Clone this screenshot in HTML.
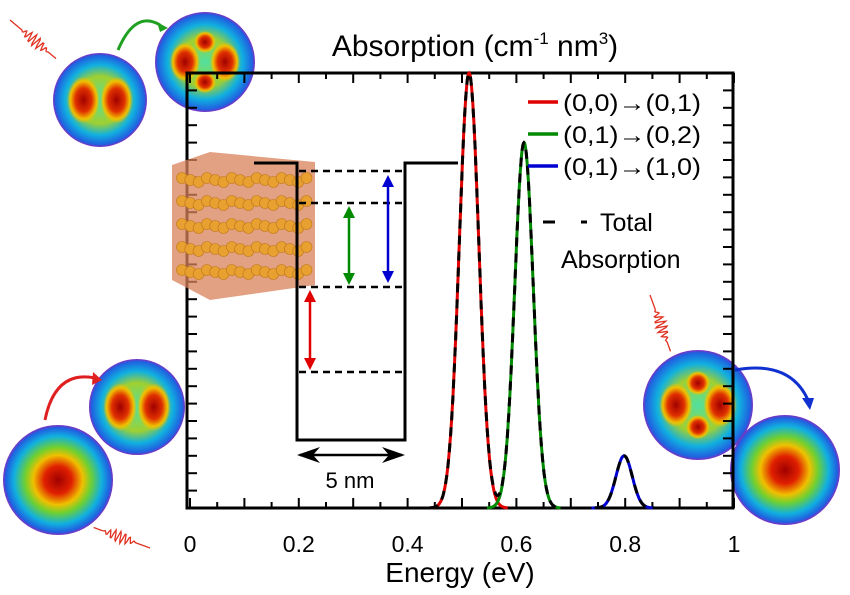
<!DOCTYPE html>
<html><head><meta charset="utf-8"><style>
body{margin:0;background:#fff;width:850px;height:590px;overflow:hidden;font-family:"Liberation Sans",sans-serif}
svg text{font-family:"Liberation Sans","DejaVu Sans",sans-serif}
</style></head><body>
<svg id="chart" width="850" height="590" viewBox="0 0 850 590" xmlns="http://www.w3.org/2000/svg">
<defs>
<radialGradient id="g1" cx="50%" cy="50%" r="50%"><stop offset="0" stop-color="#a00000"/><stop offset="0.25" stop-color="#e02000"/><stop offset="0.45" stop-color="#f0c000"/><stop offset="0.6" stop-color="#70d030"/><stop offset="0.8" stop-color="#10b0e0"/><stop offset="0.95" stop-color="#2060e0"/><stop offset="1" stop-color="#8030c0"/></radialGradient>
<radialGradient id="g2" cx="50%" cy="50%" r="50%"><stop offset="0" stop-color="#50e0a0"/><stop offset="0.5" stop-color="#a0d030"/><stop offset="0.75" stop-color="#10b0e0"/><stop offset="0.95" stop-color="#2060e0"/><stop offset="1" stop-color="#8030c0"/></radialGradient>
<radialGradient id="lobe" cx="50%" cy="50%" r="50%"><stop offset="0" stop-color="#a00000"/><stop offset="0.5" stop-color="#e03000"/><stop offset="0.8" stop-color="#f0c000"/><stop offset="1" stop-color="#f0c000" stop-opacity="0"/></radialGradient>
</defs>
<g id="plot"></g>
</svg>
<script>
const categories = ['(0,0)→(0,1)','(0,1)→(0,2)','(0,1)→(1,0)'];
const peakCenters = [0.513, 0.614, 0.798];
const peakHeights = [1.0, 0.84, 0.12];
const peakWidths = [0.018, 0.017, 0.015];
const seriesColors = ['#e00000','#008a00','#0000d0'];
const xTicks = [0,0.2,0.4,0.6,0.8,1];
const xTickLabels = ['0','0.2','0.4','0.6','0.8','1'];
const levelY = [171,203,287,372];

const NS='http://www.w3.org/2000/svg';
const L=187,R=733,T=73,B=508;
const X0=190,X1=734;
const xs=v=>X0+(X1-X0)*v;
const ys=v=>B-(B-T)*v;
const g=document.getElementById('plot');
function el(tag,attrs,parent){const e=document.createElementNS(NS,tag);for(const k in attrs)e.setAttribute(k,attrs[k]);(parent||g).appendChild(e);return e;}

function orb(cx,cy,r,type,name){
  const grp=el('g',{});
  
  
  if(type===0){el('circle',{cx,cy,r,fill:'url(#g1)'},grp);}
  else if(type===1){el('circle',{cx,cy,r,fill:'url(#g2)'},grp);
    el('ellipse',{cx:cx-r*0.35,cy,rx:r*0.35,ry:r*0.5,fill:'url(#lobe)'},grp);
    el('ellipse',{cx:cx+r*0.35,cy,rx:r*0.35,ry:r*0.5,fill:'url(#lobe)'},grp);}
  else {el('circle',{cx,cy,r,fill:'url(#g2)'},grp);
    el('ellipse',{cx:cx-r*0.4,cy,rx:r*0.3,ry:r*0.4,fill:'url(#lobe)'},grp);
    el('ellipse',{cx:cx+r*0.4,cy,rx:r*0.3,ry:r*0.4,fill:'url(#lobe)'},grp);
    el('circle',{cx,cy:cy-r*0.4,r:r*0.22,fill:'url(#lobe)'},grp);
    el('circle',{cx,cy:cy+r*0.4,r:r*0.22,fill:'url(#lobe)'},grp);}
}
function wave(x,y,ang,name){
  let d='M0,0';for(let i=0;i<=60;i++){const a=(i>15&&i<50)?6*Math.sin((i-15)/35*Math.PI):0;d+=` L${i},${a*Math.sin(i*1.2)}`;}
  const p=el('path',{d,fill:'none',stroke:'#e03020','stroke-width':1.3,transform:`translate(${x},${y}) rotate(${ang})`});
  
  
}
wave(10,20,40,'photon-wave-top');wave(150,548,200,'photon-wave-bottom');wave(650,295,70,'photon-wave-right');
orb(100,100,47,1,'orbital-00');orb(205,62,50,2,'orbital-01-top');
orb(58,480,55,0,'orbital-ground-bottom');orb(137,407,48,1,'orbital-01-bottom');
orb(698,405,55,2,'orbital-01-right');orb(785,470,55,0,'orbital-10-right');
function carrow(d,col,name){const p=el('path',{d,fill:'none',stroke:col,'stroke-width':3});
  
  }
carrow('M118,50 Q135,10 160,25','#20a020','transition-arrow-green');
carrow('M45,420 Q55,370 95,378','#e02020','transition-arrow-red');
carrow('M735,370 Q790,360 808,400','#1030d0','transition-arrow-blue');
el('polygon',{points:'157,22 168,28 160,32',fill:'#20a020'});
el('polygon',{points:'93,372 102,380 92,385',fill:'#e02020'});
el('polygon',{points:'802,398 814,398 810,410',fill:'#1030d0'});

const fr=el('rect',{x:L,y:T,width:R-L,height:B-T,fill:'none',stroke:'#000','stroke-width':3});


for(let v=0;v<=1.001;v+=0.05){const x=xs(v);const len=(Math.round(v*20)%2===0)?10:6;
  el('line',{x1:x,y1:B,x2:x,y2:B-len,stroke:'#000','stroke-width':2});
  el('line',{x1:x,y1:T,x2:x,y2:T+len,stroke:'#000','stroke-width':2});}
for(let y=B-17.4;y>T+5;y-=17.4){el('line',{x1:L,y1:y,x2:L+10,y2:y,stroke:'#000','stroke-width':2});el('line',{x1:R,y1:y,x2:R-10,y2:y,stroke:'#000','stroke-width':2});}
xTicks.forEach((v,i)=>{const t=el('text',{x:xs(v),y:552,'font-size':23,'text-anchor':'middle'});t.textContent=xTickLabels[i];
  
  });
const xl=el('text',{x:460,y:582,'font-size':28,'text-anchor':'middle'});xl.textContent='Energy (eV)';


const tt=el('text',{x:475,y:56,'font-size':30,'text-anchor':'middle'});
tt.innerHTML='Absorption (cm<tspan dy="-12" font-size="17">-1</tspan><tspan dy="12"> nm</tspan><tspan dy="-12" font-size="17">3</tspan><tspan dy="12">)</tspan>';



const nb=el('g',{});


el('polygon',{points:'172,165 210,152 315,162 315,285 210,300 172,280',fill:'#d9825a','fill-opacity':0.75},nb);
for(let r=0;r<5;r++)for(let c=0;c<16;c++)el('circle',{cx:182+c*8.3,cy:180+r*23+((c%3)-1)*2,r:5.5,fill:'#e8a030',stroke:'#c07818','stroke-width':0.6},nb);

const well=el('path',{d:'M254,163 H297 V440 H405 V163 H458',fill:'none',stroke:'#000','stroke-width':3});


levelY.forEach(y=>{const l=el('line',{x1:299,y1:y,x2:405,y2:y,stroke:'#000','stroke-width':2.5,'stroke-dasharray':'7,5'});
  
  });
function darrow(x,y1,y2,col,name){const a=el('g',{});
  
  
  el('line',{x1:x,y1:y1+8,x2:x,y2:y2-8,stroke:col,'stroke-width':2.5},a);
  el('polygon',{points:`${x-6},${y1+12} ${x},${y1} ${x+6},${y1+12}`,fill:col},a);
  el('polygon',{points:`${x-6},${y2-12} ${x},${y2} ${x+6},${y2-12}`,fill:col},a);}
darrow(388,175,283,'#0000d0','arrow-blue');darrow(349,206,285,'#008a00','arrow-green');darrow(310,290,370,'#e00000','arrow-red');
const wa=el('g',{});


el('line',{x1:300,y1:455,x2:402,y2:455,stroke:'#000','stroke-width':2.5},wa);
el('polygon',{points:'297,455 320,447 313,455 320,463',fill:'#000'},wa);
el('polygon',{points:'405,455 382,447 389,455 382,463',fill:'#000'},wa);
const wl=el('text',{x:350,y:488,'font-size':22,'text-anchor':'middle'});wl.textContent='5 nm';



function gauss(v,i){return peakHeights[i]*Math.exp(-0.5*Math.pow((v-peakCenters[i])/peakWidths[i],2));}
categories.forEach((c,i)=>{let d='';for(let v=peakCenters[i]-4*peakWidths[i];v<=peakCenters[i]+4*peakWidths[i];v+=0.001){d+=(d?'L':'M')+xs(v).toFixed(1)+','+ys(gauss(v,i)).toFixed(1);}
  const p=el('path',{d,fill:'none',stroke:seriesColors[i],'stroke-width':3});
  
  });
let dt='';for(let v=0.44;v<=0.87;v+=0.001){let s=0;for(let i=0;i<3;i++)s+=gauss(v,i);dt+=(dt?'L':'M')+xs(v).toFixed(1)+','+ys(s).toFixed(1);}
const tp=el('path',{d:dt,fill:'none',stroke:'#000','stroke-width':3,'stroke-dasharray':'9,7'});



categories.forEach((c,i)=>{const y=102+i*32;
  const ln=el('line',{x1:528,y1:y,x2:558,y2:y,stroke:seriesColors[i],'stroke-width':3.5});
  
  
  const t=el('text',{x:563,y:y+9,'font-size':24,'font-family':'"DejaVu Sans",sans-serif','textLength':138,'lengthAdjust':'spacingAndGlyphs'});t.textContent=c;
  
  });
el('line',{x1:543,y1:222,x2:555,y2:222,stroke:'#000','stroke-width':3});
el('line',{x1:581,y1:222,x2:587,y2:222,stroke:'#000','stroke-width':3});
const t1=el('text',{x:600,y:231,'font-size':25});t1.textContent='Total';


const t2=el('text',{x:561,y:268,'font-size':25});t2.textContent='Absorption';


</script>
</body></html>
